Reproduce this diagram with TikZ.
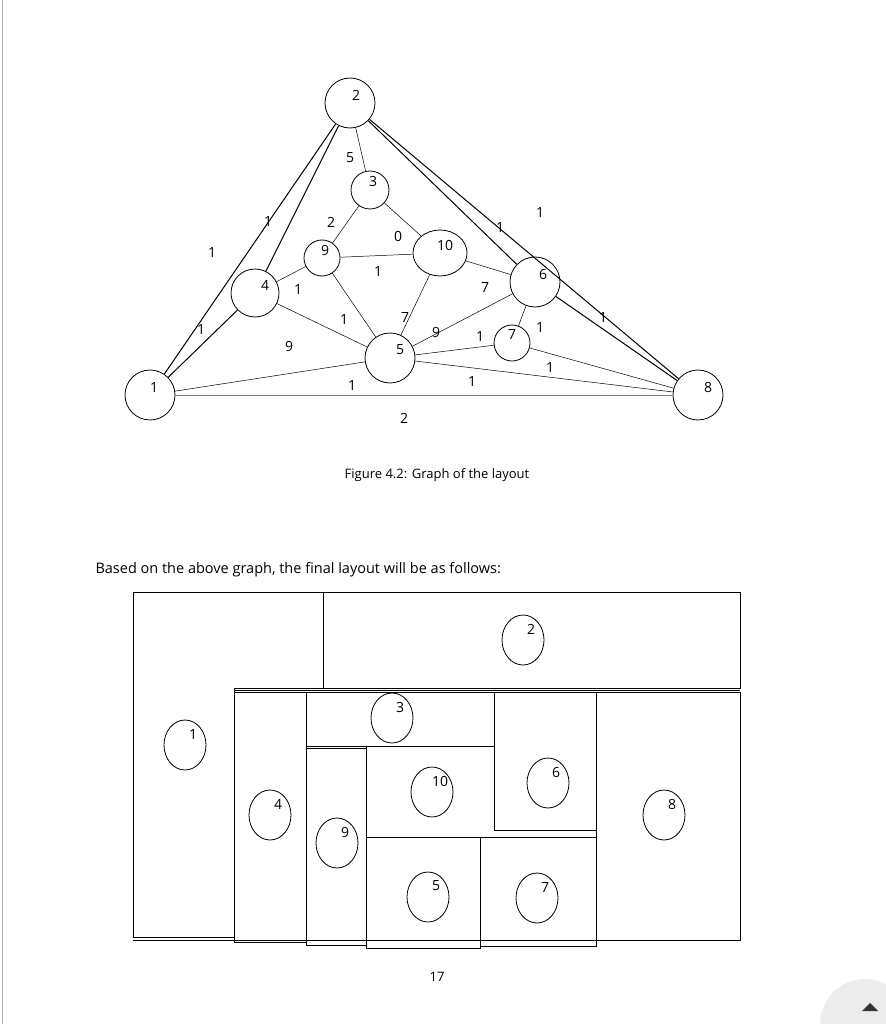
\documentclass[tikz,border=0pt]{standalone}
\usepackage{fontspec}
\setmainfont{Open Sans}
\usetikzlibrary{shapes.geometric}
\begin{document}
\begin{tikzpicture}[x=1pt,y=-1pt,
  gn/.style={draw,circle,minimum size=#1,inner sep=0pt,line width=0.8pt},
  lbl/.style={font=\fontsize{14}{15}\selectfont,inner sep=1pt},
  ed/.style={line width=0.5pt},
  edb/.style={line width=1pt},
  bx/.style={draw,line width=0.8pt}]
\useasboundingbox (0,0) rectangle (885,1024);
\draw[gray!60] (2,0) -- (2,1024);
% graph nodes
\node[gn=50] (n2) at (350,103) {};
\node[gn=38] (n3) at (370,190) {};
\node[gn=36] (n9) at (322,258) {};
\node[draw,ellipse,inner sep=0pt,line width=0.8pt,minimum width=54,minimum height=46] (n10) at (440,253) {};
\node[gn=48] (n4) at (255,293) {};
\node[gn=50] (n6) at (535,282) {};
\node[gn=36] (n7) at (512,343) {};
\node[gn=50] (n5) at (390,358) {};
\node[gn=50] (n1) at (150,395) {};
\node[gn=50] (n8) at (698,395) {};
\foreach \n/\t/\dx in {n2/2/6,n3/3/3,n9/9/3,n10/10/5,n4/4/10,n6/6/8,n7/7/0,n5/5/10,n1/1/4,n8/8/10}
  \node[lbl] at ([xshift=\dx,yshift=8]\n.center) {\t};
% edges
\draw[edb] (n2) -- (n1);
\draw[edb] (n2) -- (n4);
\draw[edb] (n2) -- (n6);
\draw[edb] (n2) -- (n8);
\draw[edb] (n4) -- (n1);
\draw[edb] (n6) -- (n8);
\draw[ed] (n2) -- (n3);
\draw[ed] (n3) -- (n9);
\draw[ed] (n3) -- (n10);
\draw[ed] (n9) -- (n10);
\draw[ed] (n9) -- (n4);
\draw[ed] (n9) -- (n5);
\draw[ed] (n10) -- (n5);
\draw[ed] (n10) -- (n6);
\draw[ed] (n4) -- (n5);
\draw[ed] (n6) -- (n5);
\draw[ed] (n6) -- (n7);
\draw[ed] (n5) -- (n7);
\draw[ed] (n7) -- (n8);
\draw[ed] (n5) -- (n8);
\draw[ed] (n5) -- (n1);
\draw[ed,gray] (n1) -- (n8);
% edge labels
\foreach \x/\y/\t in {212/253/1,268/222/1,350/158/5,331/222/2,398/236/0,378/272/1,298/290/1,
  344/320/1,405/318/7,485/288/7,500/228/1,540/213/1,603/318/1,540/328/1,436/332/9,480/337/1,
  550/368/1,472/382/1,352/386/1,404/418/2,201/330/1,289/346/9}
  \node[lbl] at (\x,\y) {\t};
\node[font=\fontsize{13}{15}\selectfont] (cap) at (437,475) {Figure 4.2: Graph of the layout};
\node[font=\fontsize{14.5}{16}\selectfont,anchor=west] (intro) at (92,570) {Based on the above graph, the final layout will be as follows:};
% layout
\draw[bx] (133,592) -- (323,592) -- (323,688) -- (234,688) -- (234,937) -- (133,937) -- cycle;
\draw[bx] (323,592) rectangle (740,688);
\draw[bx] (234,690) -- (740,690);
\draw[bx] (234,692) rectangle (306,942);
\draw[bx] (306,692) rectangle (494,746);
\draw[bx] (306,748) rectangle (366,945);
\draw[bx] (366,746) -- (366,837);
\draw[gray!50] (366,837) -- (480,837);
\draw[bx] (494,692) rectangle (596,830);
\draw[bx] (366,837) rectangle (480,948);
\draw[bx] (480,837) rectangle (596,946);
\draw[bx] (596,692) rectangle (740,940);
\draw[bx] (133,940) -- (740,940);
\foreach \n/\x/\y in {l1/185/745,l2/523/640,l3/392/718,l10/432/792,l6/548/783,l4/270/815,l9/337/843,l8/664/815,l5/428/897,l7/537/898}
  \node[draw,ellipse,minimum width=42,minimum height=50,line width=0.8pt] (\n) at (\x,\y) {};
\foreach \n/\t in {l1/1,l2/2,l3/3,l10/10,l6/6,l4/4,l9/9,l8/8,l5/5,l7/7}
  \node[lbl] at ([xshift=8,yshift=11]\n.center) {\t};
\node[font=\fontsize{13}{15}\selectfont] (pg) at (437,977) {17};
\fill[gray!15] (865,1024) circle (45);
\fill[black!80] (862,1011) -- (870,1003) -- (878,1011) -- cycle;
\end{tikzpicture}
\end{document}
